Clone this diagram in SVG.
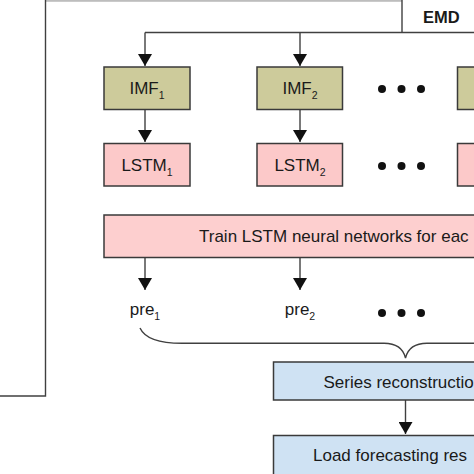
<svg xmlns="http://www.w3.org/2000/svg" width="474" height="474" viewBox="0 0 474 474">
<style>
.ln{stroke:#404040;stroke-width:1.4;fill:none}
.box{stroke:#3a3a3a;stroke-width:1.5}
.imf{fill:#cdcb9b}
.lstm{fill:#fcc9c9}
.train{fill:#fdcfcf}
.blue{fill:#cfe2f3}
.t{font-family:"Liberation Sans",Arial,sans-serif;font-size:17px;fill:#1a1a1a}
.c{text-anchor:middle}
.sub{font-size:10.5px}
.dot{fill:#111}
</style>
<defs>
<marker id="ah" markerUnits="userSpaceOnUse" markerWidth="15" markerHeight="14" refX="12" refY="7" orient="auto">
<path d="M0,0 L12,7 L0,14 Z" fill="#111"/>
</marker>
</defs>
<rect x="0" y="0" width="474" height="474" fill="#ffffff"/>
<g id="connectors">
<rect x="45" y="0" width="357" height="1.8" fill="#bdbdbd"/>
<path class="ln" d="M45.5,0 V396 H0"/>
<path class="ln" d="M402,0 V32.5"/>
<path class="ln" d="M474,32.5 H145"/>
<path class="ln" d="M145,32.5 V66" marker-end="url(#ah)"/>
<path class="ln" d="M300,32.5 V66" marker-end="url(#ah)"/>
<path class="ln" d="M145,110 V142" marker-end="url(#ah)"/>
<path class="ln" d="M300,110 V142" marker-end="url(#ah)"/>
<path class="ln" d="M145,258 V290" marker-end="url(#ah)"/>
<path class="ln" d="M300,258 V290" marker-end="url(#ah)"/>
<path class="ln" d="M405.5,400 V434" marker-end="url(#ah)"/>
<path class="ln" d="M140,328 C145,339 160,343.3 182,343.3 L384,343.3 C397,343.3 403.5,350 405.5,358 C407.5,350 414,343.3 427,343.3 L474,343.3"/>
</g>
<g id="emd-label"><text class="t" x="423" y="23" style="font-weight:bold;font-size:16.5px">EMD</text></g>
<g id="imf1"><rect class="box imf" x="104" y="67" width="86" height="42.5"/><text class="t c" x="147" y="94">IMF<tspan class="sub" dy="5">1</tspan></text></g>
<g id="imf2"><rect class="box imf" x="257" y="67" width="85.5" height="42.5"/><text class="t c" x="300" y="94">IMF<tspan class="sub" dy="5">2</tspan></text></g>
<g id="imf3"><rect class="box imf" x="457.5" y="67" width="30" height="42.5"/></g>
<g id="dots1"><circle class="dot" cx="382" cy="89" r="4"/><circle class="dot" cx="401.5" cy="89" r="4"/><circle class="dot" cx="421" cy="89" r="4"/></g>
<g id="lstm1"><rect class="box lstm" x="104" y="143.5" width="86" height="42.5"/><text class="t c" x="147" y="170.5">LSTM<tspan class="sub" dy="5">1</tspan></text></g>
<g id="lstm2"><rect class="box lstm" x="257" y="143.5" width="85.5" height="42.5"/><text class="t c" x="300" y="170.5">LSTM<tspan class="sub" dy="5">2</tspan></text></g>
<g id="lstm3"><rect class="box lstm" x="457.5" y="143.5" width="30" height="42.5"/></g>
<g id="dots2"><circle class="dot" cx="382" cy="166" r="4"/><circle class="dot" cx="401.5" cy="166" r="4"/><circle class="dot" cx="421" cy="166" r="4"/></g>
<g id="train"><rect class="box train" x="104" y="215" width="380" height="42.5"/><text class="t" x="199" y="242">Train LSTM neural networks for eac</text></g>
<g id="pre1"><text class="t c" x="145" y="315">pre<tspan class="sub" dy="5">1</tspan></text></g>
<g id="pre2"><text class="t c" x="300" y="315">pre<tspan class="sub" dy="5">2</tspan></text></g>
<g id="dots3"><circle class="dot" cx="382" cy="313" r="4"/><circle class="dot" cx="401.5" cy="313" r="4"/><circle class="dot" cx="421" cy="313" r="4"/></g>
<g id="series"><rect class="box blue" x="273.5" y="362" width="210" height="38"/><text class="t" x="323.5" y="387.5">Series reconstructio</text></g>
<g id="load"><rect class="box blue" x="273.5" y="435.5" width="210" height="45"/><text class="t" x="313" y="460.5">Load forecasting res</text></g>
</svg>
